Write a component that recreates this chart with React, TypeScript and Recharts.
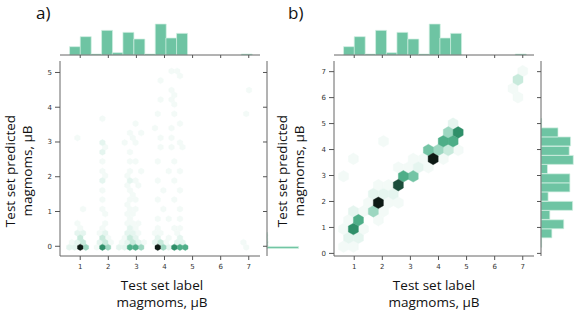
import React from "react";
import { ScatterChart, Scatter, BarChart, Bar, XAxis, YAxis } from "recharts";

const xTicks = [1, 2, 3, 4, 5, 6, 7];
const yTicksA = [0, 1, 2, 3, 4, 5];
const yTicksB = [0, 1, 2, 3, 4, 5, 6, 7];

// top marginal: label histogram (same test set in both panels)
const labelBins = [0.81, 1.19, 1.57, 1.95, 2.33, 2.71, 3.1, 3.48, 3.86, 4.24, 4.62, 5.0, 5.39, 5.77, 6.15, 6.53, 6.92];
const labelCounts = [25, 55, 3, 74, 7, 68, 48, 3, 93, 51, 65, 0, 0, 0, 0, 0, 3];

// right marginal: predicted histograms
const predBinsA = [-0.03, 0.02, 0.07, 0.12, 0.17, 0.22, 0.27, 0.32, 0.37];
const predCountsA = [93, 3, 2, 3, 2, 2, 1, 2, 1];
const predBinsB = [0.41, 0.77, 1.12, 1.48, 1.83, 2.19, 2.54, 2.89, 3.25, 3.6, 3.95, 4.31, 4.66, 5.02];
const predCountsB = [2, 32, 67, 26, 93, 21, 85, 85, 19, 95, 83, 87, 50, 2];

// hexbin cells: [label, predicted, density level]
const hexA: [number, number, number][] = [
  [0.61, -0.03, 2], [0.8, -0.03, 2], [1.0, -0.03, 9], [1.2, -0.03, 4], [1.59, -0.03, 1],
  [1.79, -0.03, 7], [1.99, -0.03, 4], [2.38, -0.03, 2], [2.58, -0.03, 2], [2.77, -0.03, 6],
  [2.97, -0.03, 6], [3.17, -0.03, 4], [3.76, -0.03, 9], [3.96, -0.03, 4], [4.15, -0.03, 2],
  [4.35, -0.03, 7], [4.55, -0.03, 6], [4.74, -0.03, 6], [6.91, -0.03, 1],
  [0.7, 0.11, 1], [0.9, 0.11, 2], [1.1, 0.11, 3], [1.69, 0.11, 2], [1.89, 0.11, 3], [2.09, 0.11, 1],
  [2.48, 0.11, 1], [2.68, 0.11, 2], [2.87, 0.11, 3], [3.07, 0.11, 2], [3.27, 0.11, 1],
  [3.66, 0.11, 2], [3.86, 0.11, 3], [4.05, 0.11, 1], [4.45, 0.11, 2], [4.64, 0.11, 2], [6.81, 0.11, 1],
  [1.0, 0.24, 3], [1.79, 0.24, 3], [1.99, 0.24, 1], [2.58, 0.24, 1], [2.77, 0.24, 3], [2.97, 0.24, 2],
  [3.76, 0.24, 2], [4.15, 0.24, 1], [4.55, 0.24, 2],
  [0.9, 0.38, 2], [1.1, 0.38, 2], [1.69, 0.38, 1], [1.89, 0.38, 2], [2.68, 0.38, 2], [2.87, 0.38, 2],
  [3.07, 0.38, 1], [3.66, 0.38, 1], [3.86, 0.38, 1], [4.45, 0.38, 1],
  [1.0, 0.52, 1], [1.79, 0.52, 1], [2.77, 0.52, 2], [2.97, 0.52, 1], [3.76, 0.52, 1], [4.35, 0.52, 1], [4.55, 0.52, 1],
  [0.9, 0.66, 1], [1.89, 0.66, 1], [2.68, 0.66, 1], [2.87, 0.66, 1], [3.07, 0.66, 1],
  [2.77, 0.79, 1], [3.76, 0.79, 1], [4.15, 0.79, 1], [4.55, 0.79, 1],
  [1.89, 0.93, 1], [2.68, 0.93, 1], [2.87, 0.93, 1],
  [1.1, 1.07, 1], [1.79, 1.07, 1], [2.77, 1.07, 1], [2.97, 1.07, 1], [3.96, 1.07, 1], [4.55, 1.07, 1],
  [2.68, 1.2, 1],
  [1.79, 1.34, 1], [2.77, 1.34, 1], [2.97, 1.34, 1], [3.76, 1.34, 1], [4.35, 1.34, 1],
  [2.87, 1.48, 1],
  [1.79, 1.61, 1], [2.77, 1.61, 1], [3.96, 1.61, 1], [4.55, 1.61, 1],
  [2.68, 1.75, 1], [3.07, 1.75, 1],
  [1.79, 1.89, 2], [2.77, 1.89, 2], [2.97, 1.89, 1], [3.76, 1.89, 1], [4.35, 1.89, 1],
  [1.89, 2.03, 1], [2.68, 2.03, 1],
  [1.79, 2.16, 1], [2.77, 2.16, 1], [3.17, 2.16, 1], [4.15, 2.16, 1], [4.55, 2.16, 1],
  [1.79, 2.44, 1], [2.77, 2.44, 1], [2.97, 2.44, 1], [3.76, 2.44, 1], [4.35, 2.44, 1],
  [1.79, 2.71, 2], [2.77, 2.71, 1],
  [1.89, 2.85, 1], [3.86, 2.85, 1], [4.25, 2.85, 1], [4.64, 2.85, 1],
  [1.79, 2.98, 2], [2.58, 2.98, 1], [2.97, 2.98, 1], [4.55, 2.98, 1],
  [0.9, 3.12, 1], [2.87, 3.12, 1], [3.86, 3.12, 1], [4.25, 3.12, 1],
  [2.77, 3.26, 1], [3.17, 3.26, 1],
  [3.66, 3.4, 1], [4.25, 3.4, 1],
  [2.97, 3.53, 1], [4.55, 3.53, 1],
  [1.79, 3.67, 1],
  [3.76, 3.81, 1], [4.35, 3.81, 1], [6.91, 3.81, 1],
  [4.35, 4.08, 1],
  [3.86, 4.22, 1], [4.25, 4.22, 1],
  [4.35, 4.35, 1],
  [4.25, 4.49, 1], [7.01, 4.49, 1],
  [3.86, 4.77, 1],
  [4.55, 4.9, 1],
  [4.25, 5.04, 1], [4.45, 5.04, 1],
];

const hexB: [number, number, number][] = [
  [7.0, 7.02, 1], [6.83, 6.69, 3], [6.65, 6.35, 1], [6.83, 6.01, 1],
  [0.62, 0.26, 1], [0.97, 0.26, 1],
  [0.8, 0.6, 2], [1.15, 0.6, 2],
  [0.62, 0.94, 1], [0.97, 0.94, 7], [1.33, 0.94, 1],
  [0.8, 1.28, 1], [1.15, 1.28, 6], [1.86, 1.28, 1],
  [0.97, 1.62, 2], [1.33, 1.62, 1], [1.68, 1.62, 4], [2.04, 1.62, 1],
  [1.51, 1.95, 1], [1.86, 1.95, 9], [2.22, 1.95, 1], [2.57, 1.95, 1],
  [1.68, 2.29, 2], [2.04, 2.29, 2], [2.39, 2.29, 2],
  [1.86, 2.63, 1], [2.22, 2.63, 1], [2.57, 2.63, 8],
  [0.62, 2.97, 1], [2.75, 2.97, 6], [3.1, 2.97, 5],
  [2.57, 3.31, 1], [2.93, 3.31, 1], [3.28, 3.31, 2], [3.64, 3.31, 1],
  [0.97, 3.64, 1], [3.1, 3.64, 1], [3.46, 3.64, 1], [3.81, 3.64, 9], [4.17, 3.64, 1],
  [3.64, 3.98, 5], [3.99, 3.98, 4], [4.35, 3.98, 3], [4.7, 3.98, 1],
  [2.04, 4.32, 1], [4.17, 4.32, 6], [4.52, 4.32, 6],
  [4.35, 4.66, 4], [4.7, 4.66, 7],
  [4.52, 5.0, 2],
];

const shades = ["#ffffff", "#f3faf7", "#e5f5ef", "#c8eadc", "#9dd7c1", "#74c4a5", "#4eae88", "#2f8f69", "#1c4d3b", "#0d1a14"];

const xDomain: [number, number] = [0.28, 7.4];
const axisLine = { stroke: "#666", strokeWidth: 1 };
const tickLine = { stroke: "#555" };
const tickFont = { fontSize: 7, fill: "#333", fontFamily: "DejaVu Sans" };
const barFill = "#6ec4a3";
const barEdge = "#d4f0e4";
const noLabel = () => "";
const zero = { top: 0, right: 0, bottom: 0, left: 0 };

const hexShape = (r: number) => (props: any) => {
  const { cx, cy, payload } = props;
  const pts = [0, 1, 2, 3, 4, 5]
    .map((k) => {
      const a = (Math.PI / 180) * (60 * k - 90);
      return `${cx + r * Math.cos(a)},${cy + r * Math.sin(a)}`;
    })
    .join(" ");
  const c = shades[payload.level];
  return <polygon points={pts} fill={c} stroke={c} strokeWidth={0.4} />;
};

const toRows = (bins: number[], counts: number[]) => bins.map((bin, i) => ({ bin, count: counts[i] }));
const toCells = (cells: [number, number, number][]) =>
  cells.map(([x, y, level]) => ({ x, y, level })).sort((p, q) => p.level - q.level);

function Panel({ left, cells, yDomain, yTicks, predBins, predCounts, r }: any) {
  return (
    <>
      {/* top marginal */}
      <div style={{ position: "absolute", left: left, top: 17 }}>
        <BarChart width={200} height={43} data={toRows(labelBins, labelCounts)} margin={zero} barCategoryGap={0}>
          <XAxis type="number" dataKey="bin" domain={xDomain} allowDataOverflow ticks={xTicks} interval={0}
            height={5} tickSize={3} tickFormatter={noLabel} axisLine={axisLine} tickLine={tickLine} />
          <YAxis hide domain={[0, 114]} />
          <Bar dataKey="count" fill={barFill} stroke={barEdge} strokeWidth={0.7} isAnimationActive={false} />
        </BarChart>
      </div>
      {/* joint hexbin */}
      <div style={{ position: "absolute", left: left - 30, top: 61 }}>
        <ScatterChart width={230} height={215} margin={zero}>
          <XAxis type="number" dataKey="x" domain={xDomain} allowDataOverflow ticks={xTicks} interval={0}
            height={20} tickSize={4} tickMargin={4} tick={tickFont} axisLine={axisLine} tickLine={tickLine} />
          <YAxis type="number" dataKey="y" domain={yDomain} allowDataOverflow ticks={yTicks} interval={0}
            width={30} tickSize={5} tickMargin={3} tick={tickFont} axisLine={axisLine} tickLine={tickLine} />
          <Scatter data={toCells(cells)} shape={hexShape(r)} isAnimationActive={false} />
        </ScatterChart>
      </div>
      {/* right marginal */}
      <div style={{ position: "absolute", left: left + 202, top: 61 }}>
        <BarChart layout="vertical" width={39} height={195} data={toRows(predBins, predCounts)} margin={zero} barCategoryGap={0}>
          <XAxis type="number" hide domain={[0, 100]} />
          <YAxis type="number" dataKey="bin" domain={yDomain} allowDataOverflow reversed ticks={yTicks} interval={0}
            width={5} tickSize={4} tickFormatter={noLabel} axisLine={axisLine} tickLine={tickLine} />
          <Bar dataKey="count" fill={barFill} stroke={barEdge} strokeWidth={0.7} isAnimationActive={false} />
        </BarChart>
      </div>
    </>
  );
}

export default function App() {
  const title = { fontSize: 13.5, fill: "#111", fontFamily: "Open Sans" };
  return (
    <div style={{ position: "absolute", left: 0, top: 0, width: 575, height: 312, background: "#fff", overflow: "hidden" }}>
      <Panel left={60} cells={hexA} yDomain={[-0.28, 5.33]} yTicks={yTicksA} predBins={predBinsA} predCounts={predCountsA} r={3.17} />
      <Panel left={334} cells={hexB} yDomain={[-0.1, 7.41]} yTicks={yTicksB} predBins={predBinsB} predCounts={predCountsB} r={5.8} />
      <svg width={575} height={312} style={{ position: "absolute", left: 0, top: 0, pointerEvents: "none" }}>
        <text x={36} y={19} fontSize={17} fontFamily="Open Sans" fill="#111">a)</text>
        <text x={288} y={19} fontSize={17} fontFamily="Open Sans" fill="#111">b)</text>

        <text x={162} y={285} textAnchor="middle" dominantBaseline="central" {...title}>Test set label</text>
        <text x={162} y={302} textAnchor="middle" dominantBaseline="central" {...title}>magmoms, μB</text>
        <text x={434} y={285} textAnchor="middle" dominantBaseline="central" {...title}>Test set label</text>
        <text x={434} y={302} textAnchor="middle" dominantBaseline="central" {...title}>magmoms, μB</text>

        <text x={10} y={171} transform="rotate(-90 10 171)" textAnchor="middle" dominantBaseline="central" {...title}>Test set predicted</text>
        <text x={27} y={171} transform="rotate(-90 27 171)" textAnchor="middle" dominantBaseline="central" {...title}>magmoms, μB</text>
        <text x={282} y={171} transform="rotate(-90 282 171)" textAnchor="middle" dominantBaseline="central" {...title}>Test set predicted</text>
        <text x={299} y={171} transform="rotate(-90 299 171)" textAnchor="middle" dominantBaseline="central" {...title}>magmoms, μB</text>
      </svg>
    </div>
  );
}
